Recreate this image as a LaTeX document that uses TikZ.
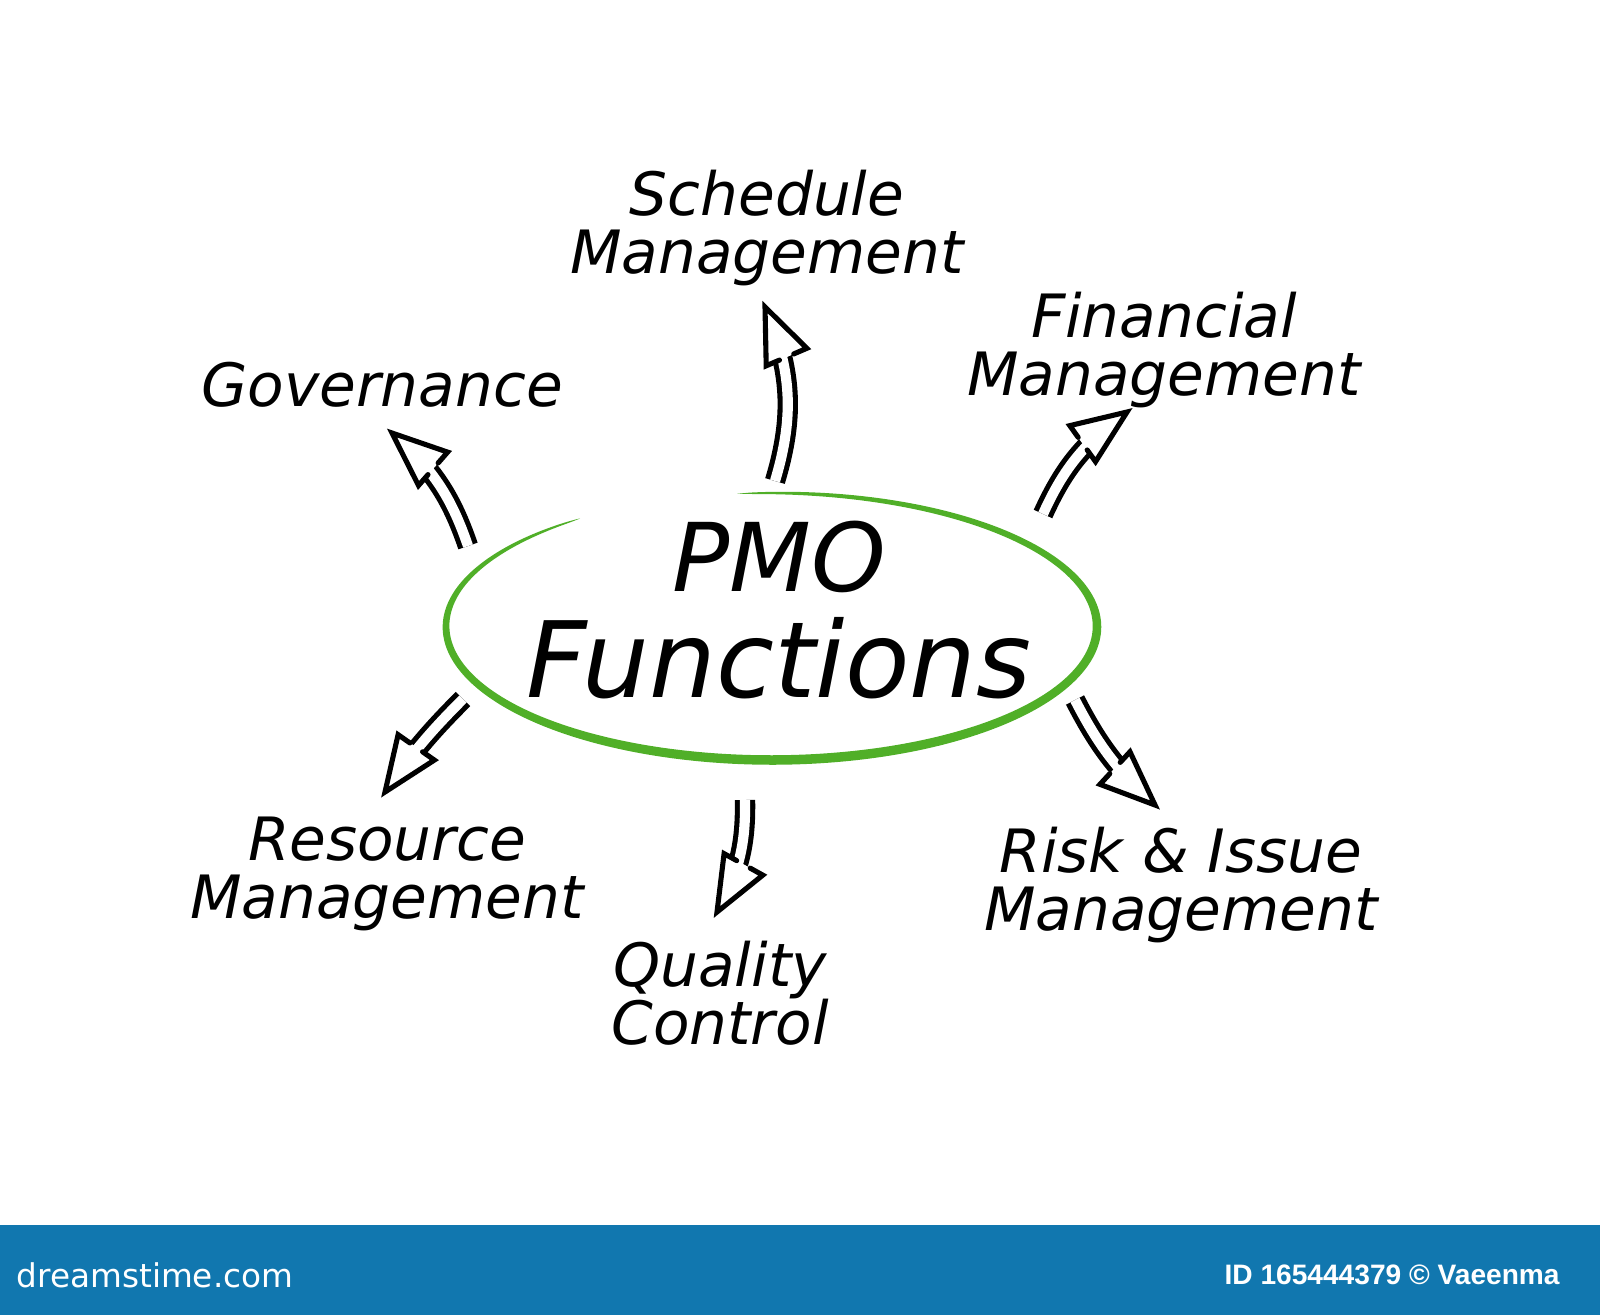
\documentclass[tikz,border=0pt]{standalone}
\usepackage{fontspec}
\setmainfont{DejaVu Sans}
\newfontfamily\footfont{Liberation Sans}
\usepackage{tikz}
\usetikzlibrary{shapes.geometric,calc,decorations.markings}

\definecolor{pmogreen}{RGB}{80,175,40}
\definecolor{footblue}{RGB}{17,119,175}

\tikzset{
  func text/.style={font=\fontsize{17}{16.5}\selectfont\itshape, align=center, inner sep=0pt},
  hollow arrow/.style={draw, double, double distance=2.9pt, line width=1.45pt,
    postaction={decorate, decoration={markings, mark=at position 1 with {
      \fill[white] (-15.5pt,-4pt) rectangle (0.5pt,4pt);
      \fill[white] (-15.5pt,6.3pt) -- (0,0) -- (-15.5pt,-6.3pt) -- cycle;
      \draw[line width=1.45pt, line join=miter, line cap=round]
        (-15.5pt,2.2pt) -- (-15.5pt,6.3pt) -- (0,0) -- (-15.5pt,-6.3pt) -- (-15.5pt,-2.2pt);
    }}}},
}

\begin{document}
\begin{tikzpicture}
\useasboundingbox (0,0) rectangle (16,13.15);
% footer bar
\fill[footblue] (0,0) rectangle (16,0.90);
\node[text=white, font=\fontsize{9.3}{10}\selectfont] (site) at (1.55,0.40) {dreamstime.com};
\node[text=white, font=\footfont\bfseries\fontsize{8}{9}\selectfont, anchor=east] (stock) at (15.72,0.40) {ID 165444379 © Vaeenma};
% green ring round the title
\node[ellipse, minimum width=6.51cm, minimum height=2.67cm, inner sep=0pt] (ring) at (7.715,6.885) {};
\fill[pmogreen, shift={(ring.center)}]
  plot[domain=0:1, samples=140, smooth] ({(3.255+0.048*sqrt(abs(sin(180*\x))))*cos(96-330*\x)}, {(1.335+0.048*sqrt(abs(sin(180*\x))))*sin(96-330*\x)})
  -- plot[domain=1:0, samples=140, smooth] ({(3.255-0.048*sqrt(abs(sin(180*\x))))*cos(96-330*\x)}, {(1.335-0.048*sqrt(abs(sin(180*\x))))*sin(96-330*\x)})
  -- cycle;
\node[font=\fontsize{30}{30}\selectfont\itshape, align=center, inner sep=0pt] (pmo) at (7.79,7.05) {{\fontsize{27}{30}\selectfont PMO}\\Functions};
% the six functions
\node[func text] (sched) at (7.67,10.87) {Schedule\\Management};
\node[func text] (gov) at (3.82,9.30) {Governance};
\node[func text] (fin) at (11.64,9.65) {Financial\\Management};
\node[func text] (res) at (3.87,4.41) {Resource\\Management};
\node[func text] (qual) at (7.20,3.22) {Quality\\Control};
\node[func text] (risk) at (11.81,4.30) {Risk \& Issue\\Management};
% arrows out of the ring
\draw[hollow arrow] ($(ring)+(-3.035,0.805)$) to[bend right=15] ($(gov)+(0.10,-0.48)$);
\draw[hollow arrow] ($(ring)+(0.035,1.455)$) to[bend right=20] ($(sched)+(-0.02,-0.79)$);
\draw[hollow arrow] ($(ring)+(2.715,1.125)$) to[bend left=15] ($(fin)+(-0.37,-0.62)$);
\draw[hollow arrow] ($(ring)+(-3.085,-0.725)$) to[bend right=5] ($(res)+(-0.02,0.82)$);
\draw[hollow arrow] ($(ring)+(-0.265,-1.735)$) to[bend left=15] ($(qual)+(-0.03,0.81)$);
\draw[hollow arrow] ($(ring)+(3.035,-0.735)$) to[bend right=10] ($(risk)+(-0.26,0.80)$);
\end{tikzpicture}
\end{document}
